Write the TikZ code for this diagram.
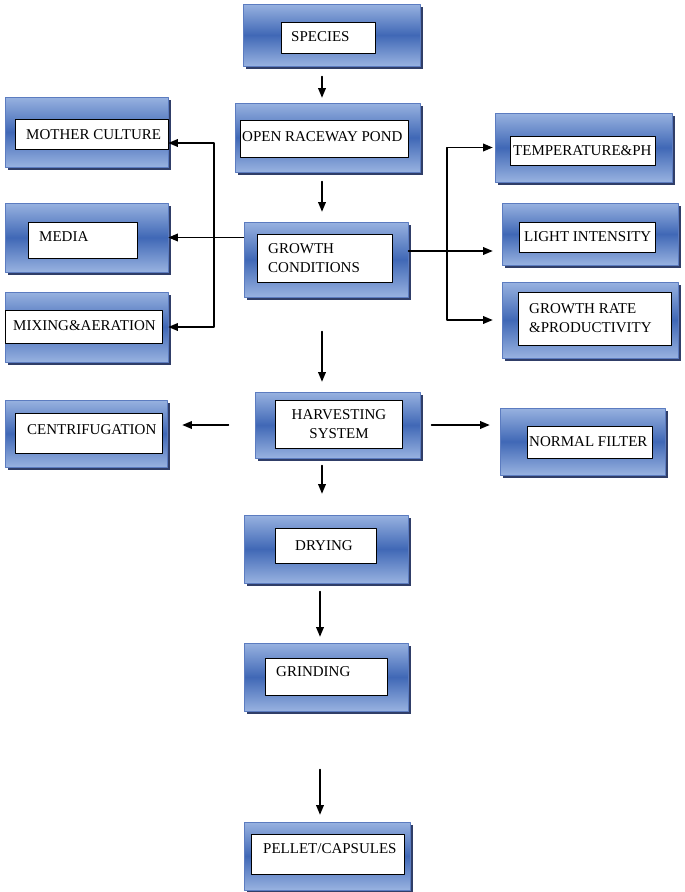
\documentclass[tikz,border=0pt]{standalone}
\usepackage{fontspec}
\setmainfont{Liberation Serif}
\usetikzlibrary{arrows}
\usetikzlibrary{shadows}
\usetikzlibrary{fadings}

\definecolor{boxlight}{RGB}{152,178,224}
\definecolor{boxdark}{RGB}{64,104,182}
\definecolor{boxedge}{RGB}{92,124,192}
\definecolor{boxshadow}{RGB}{48,62,104}

\pgfdeclarehorizontalshading{sideshade}{100bp}{color(0bp)=(white!60!black); color(10bp)=(black); color(90bp)=(black); color(100bp)=(white!60!black)}
\pgfdeclarefading{sideedge}{\pgfuseshading{sideshade}}

\begin{document}
\begin{tikzpicture}[line cap=round,line join=round,>=triangle 45,x=1pt,y=-1pt,
  outerbox/.style={rectangle,inner sep=0pt,draw=boxedge,line width=0.8pt,
    top color=boxlight,bottom color=boxlight,middle color=boxdark,
    drop shadow={shadow xshift=2.5pt,shadow yshift=-2.5pt,fill=boxshadow,opacity=1},
    path picture={\fill[boxdark,path fading=sideedge,fit fading=true]
      (path picture bounding box.south west) rectangle (path picture bounding box.north east);}},
  innerbox/.style={rectangle,inner sep=0pt,draw=black,line width=0.8pt,fill=white},
  lbl/.style={font=\fontsize{15}{19}\selectfont,inner sep=0pt,anchor=west},
  flow/.style={->,line width=1.2pt}]
\useasboundingbox (0,0) rectangle (685,892);
% outer boxes
\node[outerbox,minimum width=177pt,minimum height=62pt] (species) at (331.5,35) {};
\node[outerbox,minimum width=185pt,minimum height=69pt] (pond) at (327.5,137.5) {};
\node[outerbox,minimum width=164pt,minimum height=75pt] (growth) at (326,259.5) {};
\node[outerbox,minimum width=163pt,minimum height=70pt] (mother) at (86.5,132) {};
\node[outerbox,minimum width=163pt,minimum height=69pt] (media) at (86.5,237.5) {};
\node[outerbox,minimum width=163pt,minimum height=70pt] (mixing) at (86.5,327) {};
\node[outerbox,minimum width=177pt,minimum height=69pt] (temp) at (583.5,147.5) {};
\node[outerbox,minimum width=176pt,minimum height=62pt] (light) at (590,234) {};
\node[outerbox,minimum width=176pt,minimum height=76pt] (rate) at (590,320) {};
\node[outerbox,minimum width=165pt,minimum height=66pt] (harvest) at (337.5,425) {};
\node[outerbox,minimum width=162pt,minimum height=67pt] (centri) at (86,433.5) {};
\node[outerbox,minimum width=165pt,minimum height=67pt] (filter) at (582.5,441.5) {};
\node[outerbox,minimum width=164pt,minimum height=68pt] (drying) at (326,549) {};
\node[outerbox,minimum width=164pt,minimum height=68pt] (grinding) at (326,677) {};
\node[outerbox,minimum width=166pt,minimum height=68pt] (pellet) at (327,856) {};
% inner boxes
\node[innerbox,minimum width=94pt,minimum height=31pt] (species-in) at (328,37.5) {};
\node[innerbox,minimum width=168pt,minimum height=37pt] (pond-in) at (324,138.5) {};
\node[innerbox,minimum width=135pt,minimum height=48pt] (growth-in) at (324.5,258) {};
\node[innerbox,minimum width=153pt,minimum height=30pt] (mother-in) at (91.5,134) {};
\node[innerbox,minimum width=109pt,minimum height=36pt] (media-in) at (82.5,240) {};
\node[innerbox,minimum width=157pt,minimum height=33pt] (mixing-in) at (83.5,326.5) {};
\node[innerbox,minimum width=145pt,minimum height=29pt] (temp-in) at (582.5,150.5) {};
\node[innerbox,minimum width=136pt,minimum height=30pt] (light-in) at (587,237) {};
\node[innerbox,minimum width=153pt,minimum height=53pt] (rate-in) at (594.5,318.5) {};
\node[innerbox,minimum width=127pt,minimum height=48pt] (harvest-in) at (338.5,424) {};
\node[innerbox,minimum width=147pt,minimum height=40pt] (centri-in) at (88.5,433) {};
\node[innerbox,minimum width=125pt,minimum height=32pt] (filter-in) at (589.5,442) {};
\node[innerbox,minimum width=101pt,minimum height=35pt] (drying-in) at (325.5,545.5) {};
\node[innerbox,minimum width=122pt,minimum height=37pt] (grinding-in) at (326,676.5) {};
\node[innerbox,minimum width=153pt,minimum height=40pt] (pellet-in) at (327.5,854) {};
% labels
\node[lbl] (species-t) at (291,37) {SPECIES};
\node[lbl] (pond-t) at (242,137) {OPEN RACEWAY POND};
\node[lbl,align=left] (growth-t) at (268,258.5) {GROWTH\\CONDITIONS};
\node[lbl] (mother-t) at (26,135) {MOTHER CULTURE};
\node[lbl] (media-t) at (39,237) {MEDIA};
\node[lbl] (mixing-t) at (13,326) {MIXING\&AERATION};
\node[lbl] (temp-t) at (513,151) {TEMPERATURE\&PH};
\node[lbl] (light-t) at (524,237) {LIGHT INTENSITY};
\node[lbl,align=left] (rate-t) at (529,318) {GROWTH RATE\\\&PRODUCTIVITY};
\node[lbl,align=center,anchor=center] (harvest-t) at (339,424.5) {HARVESTING\\SYSTEM};
\node[lbl] (centri-t) at (27,430) {CENTRIFUGATION};
\node[lbl] (filter-t) at (529,442) {NORMAL FILTER};
\node[lbl] (drying-t) at (295,546) {DRYING};
\node[lbl] (grinding-t) at (276,672) {GRINDING};
\node[lbl] (pellet-t) at (263,849) {PELLET/CAPSULES};
% connectors
\coordinate (axis) at (322,0);
\coordinate (axis2) at (320,0);
\coordinate (lsplit) at (214,0);
\coordinate (rsplit) at (447,251);
\draw[flow,shorten <=10pt,shorten >=5pt] (species.south -| axis) -- (pond.north -| axis);
\draw[flow,shorten <=9pt,shorten >=10pt] (pond.south -| axis) -- (growth.north -| axis);
\draw[flow,shorten <=34pt,shorten >=10pt] (growth.south -| axis) -- (harvest.north -| axis);
\draw[flow,shorten <=7pt,shorten >=21pt] (harvest.south -| axis) -- (drying.north -| axis);
\draw[flow,shorten <=8pt,shorten >=6pt] (drying.south -| axis2) -- (grinding.north -| axis2);
\draw[flow,shorten <=58pt,shorten >=7pt] (grinding.south -| axis2) -- (pellet.north -| axis2);
\draw[flow] (growth.west |- media.east) -- (media.east);
\draw[flow] (lsplit |- media.east) |- ([yshift=-11pt]mother.east);
\draw[flow] (lsplit |- media.east) |- (mixing.east);
\draw[flow,shorten >=9pt] (growth.east |- rsplit) -- (rsplit -| light.west);
\draw[flow,shorten >=2pt] (rsplit) |- (temp.west);
\draw[flow,shorten >=9pt] (rsplit) |- (rate.west);
\draw[flow,shorten <=26pt,shorten >=15pt] (harvest.west) -- (harvest.west -| centri.east);
\draw[flow,shorten <=11pt,shorten >=10pt] (harvest.east) -- (harvest.east -| filter.west);
\end{tikzpicture}
\end{document}
